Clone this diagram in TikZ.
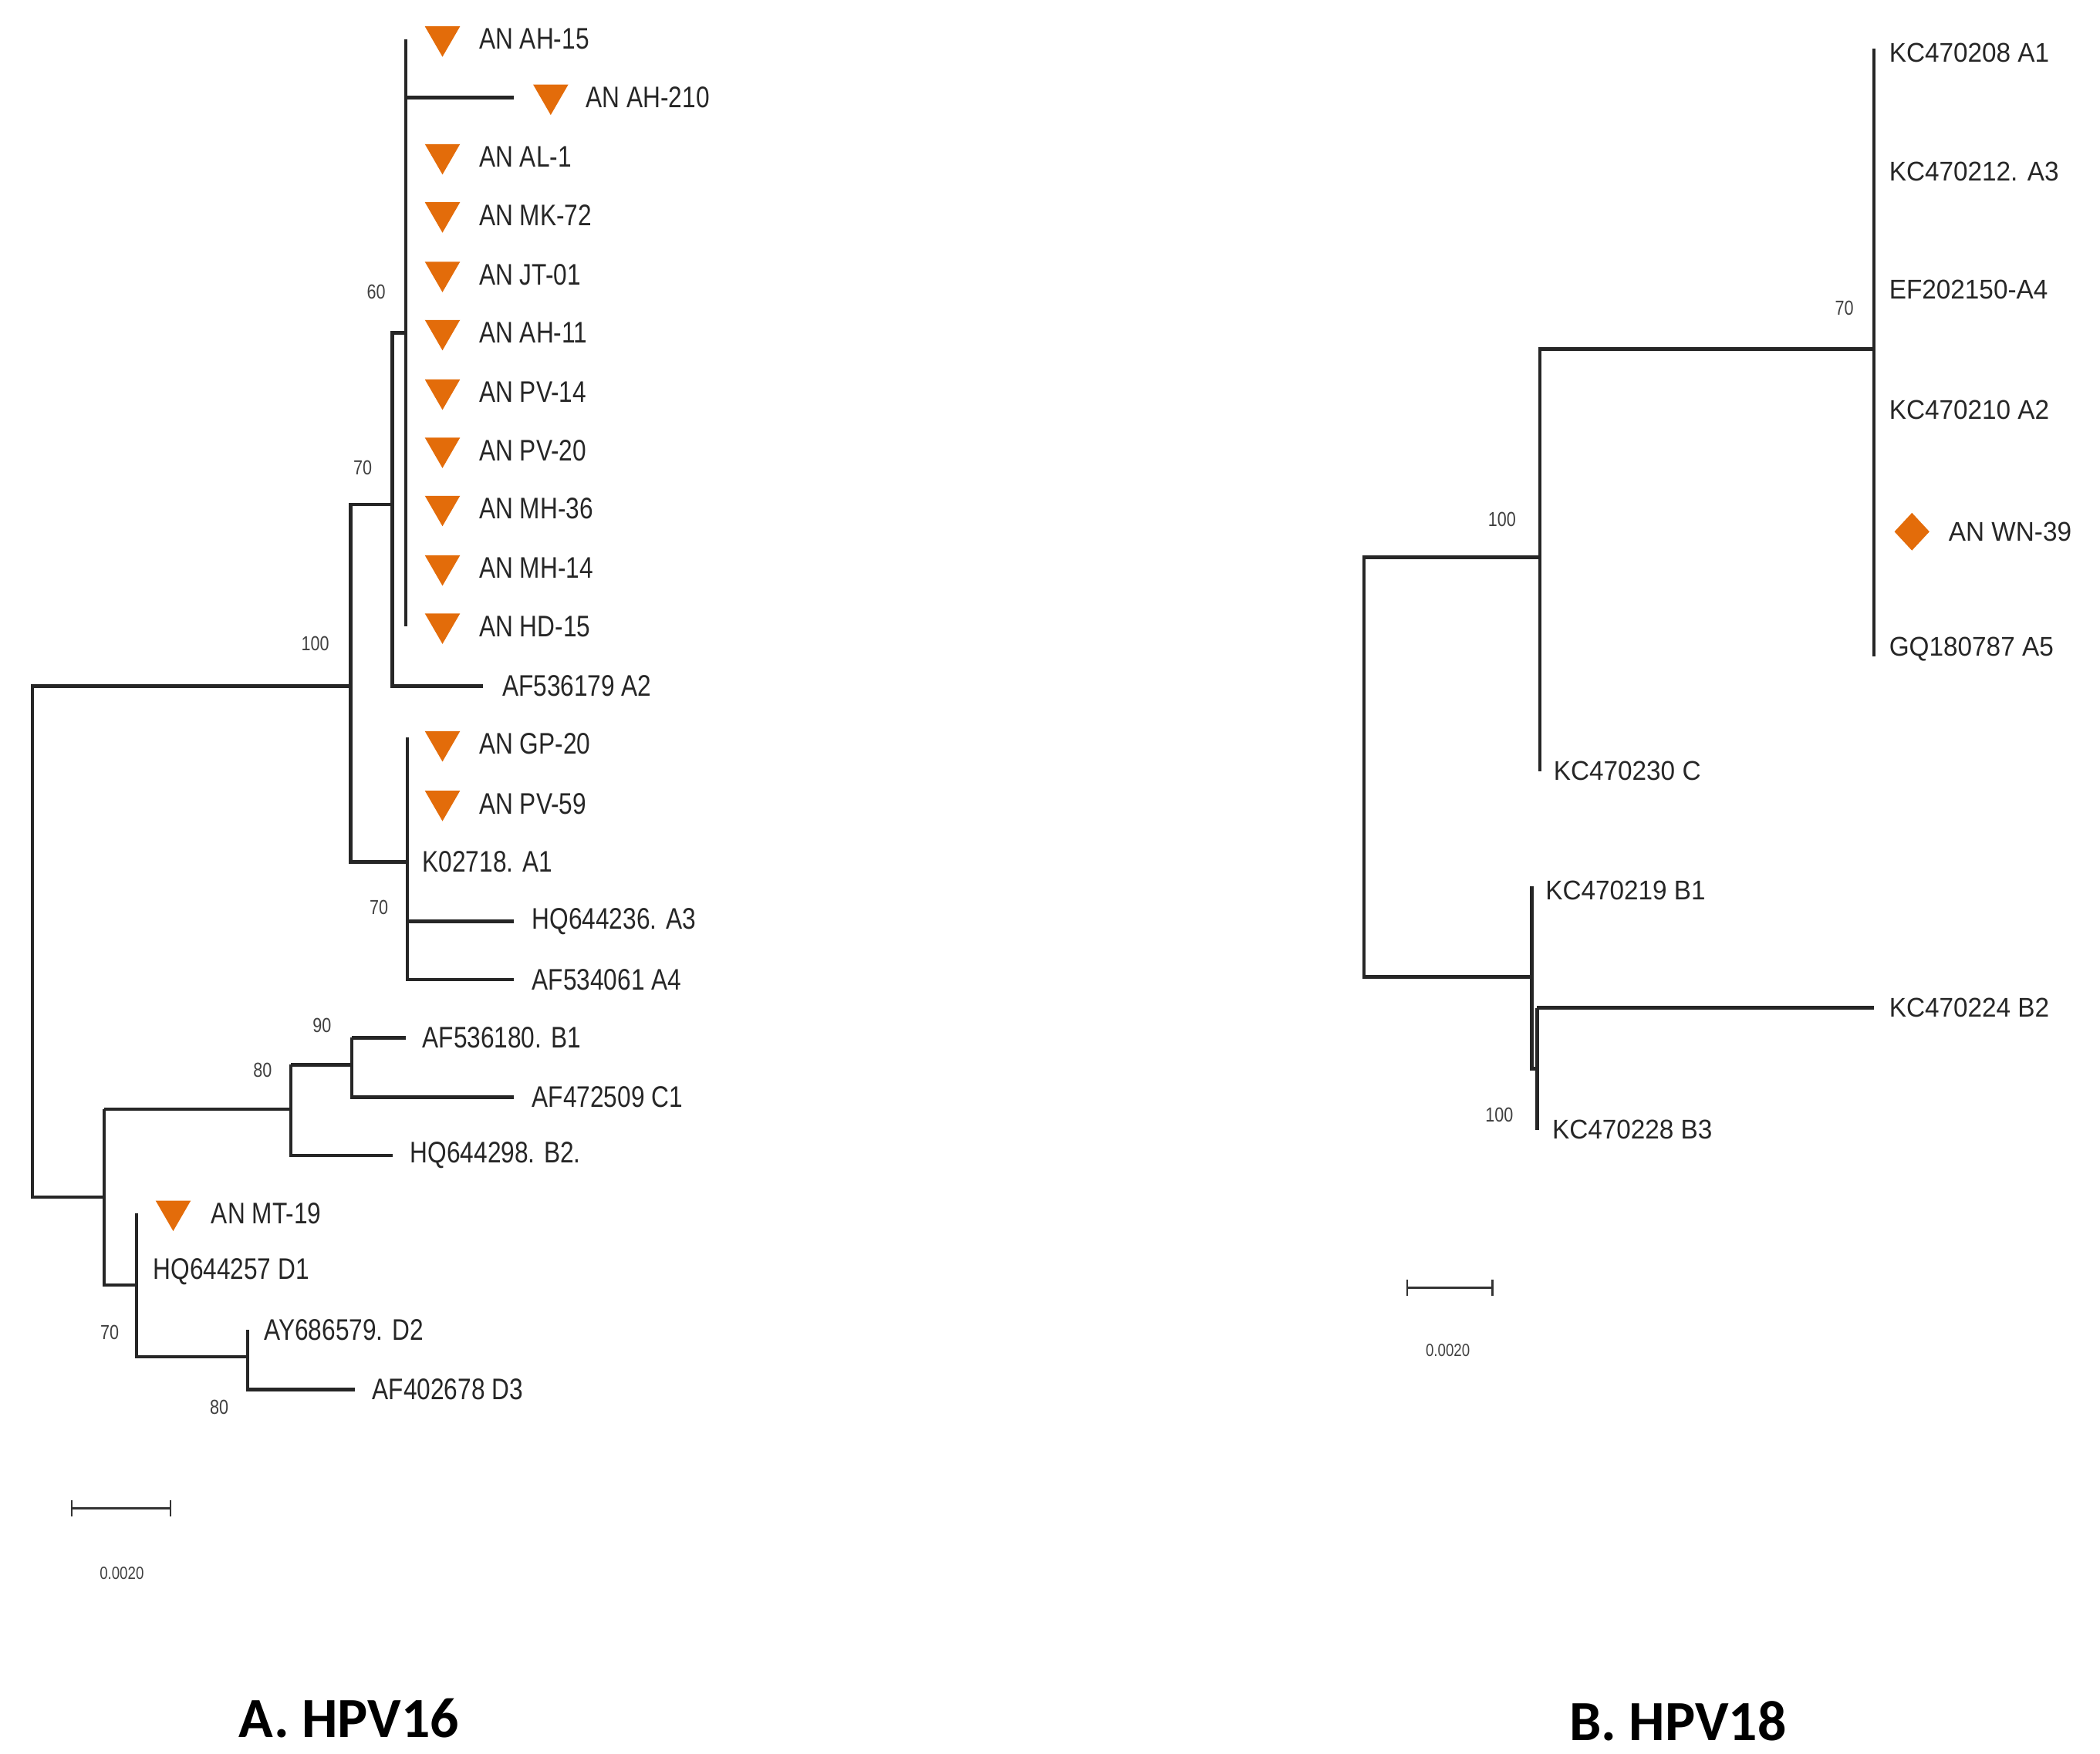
\documentclass[tikz,border=0pt]{standalone}
\usepackage{fontspec}
\setmainfont{Liberation Sans}[FakeStretch=0.82]
\newfontfamily\titlefont{Carlito}
\usetikzlibrary{shapes.geometric}
\definecolor{mark}{HTML}{E36C0A}
\tikzset{
 br/.style={line width=2.6pt,black!85},
 lf/.style={anchor=west,inner sep=0pt,font=\fontsize{22}{22}\selectfont,text=black!85},
 rl/.style={anchor=west,inner sep=0pt,font=\addfontfeature{FakeStretch=0.95}\fontsize{20}{20}\selectfont,text=black!85},
 bs/.style={inner sep=0pt,font=\fontsize{15}{15}\selectfont,text=black!75},
 tri/.style={regular polygon,regular polygon sides=3,shape border rotate=180,fill=mark,inner sep=0pt,minimum size=30pt},
 dia/.style={diamond,fill=mark,inner sep=0pt,minimum width=26pt,minimum height=28pt},
 ttl/.style={font=\titlefont\bfseries\fontsize{42}{42}\selectfont},
}
\begin{document}
\begin{tikzpicture}[x=1pt,y=-1pt]
\useasboundingbox (0,0) rectangle (1552,1296);
% ---------- A. HPV16 ----------
\foreach \n/\y/\t in {a/29/AN AH-15,c/116/AN AL-1,d/159/AN MK-72,e/203/AN JT-01,f/246/AN AH-11,g/290/AN PV-14,h/333/AN PV-20,i/376/AN MH-36,j/420/AN MH-14,k/463/AN HD-15,m/550/AN GP-20,n/594/AN PV-59}{
 \node[tri] (t\n) at (327,\y-2) {};
 \node[lf] (l\n) at (354,\y) {\t};
}
\node[tri] (tb) at (407,70) {};
\node[lf] (lb) at (433,72) {AN AH-210};
\node[lf] (lA2) at (371,507) {AF536179 A2};
\node[lf] (lA1) at (312,637) {K02718. A1};
\node[lf] (lA3) at (393,681) {HQ644236. A3};
\node[lf] (lA4) at (393,724) {AF534061 A4};
\node[lf] (lB1) at (312,767) {AF536180. B1};
\node[lf] (lC1) at (393,811) {AF472509 C1};
\node[lf] (lB2) at (303,854) {HQ644298. B2.};
\node[tri] (tmt) at (128,895) {};
\node[lf] (lmt) at (156,897) {AN MT-19};
\node[lf] (lD1) at (113,940) {HQ644257 D1};
\node[lf] (lD2) at (195,983) {AY686579. D2};
\node[lf] (lD3) at (275,1027) {AF402678 D3};
% branches
\coordinate (c1) at (300,29); \coordinate (c1b) at (300,463);
\draw[br] (c1) -- (c1b);
\draw[br] (300,72) -- (380,72);
\draw[br] (300,246) -- (290,246) -- (290,507) -- (357,507);
\draw[br] (290,373) -- (259,373) -- (259,637) -- (301,637);
\draw[br] (259,507) -- (24,507) -- (24,885) -- (77,885);
\draw[br] (301,545) -- (301,724) -- (380,724);
\draw[br] (301,681) -- (380,681);
\draw[br] (77,820) -- (77,950) -- (101,950);
\draw[br] (77,820) -- (215,820);
\draw[br] (215,787) -- (215,854) -- (290,854);
\draw[br] (215,787) -- (260,787);
\draw[br] (260,767) -- (260,811) -- (380,811);
\draw[br] (260,767) -- (300,767);
\draw[br] (101,897) -- (101,1003) -- (183,1003);
\draw[br] (183,983) -- (183,1027) -- (262,1027);
\node[bs] (b60) at (278,216) {60};
\node[bs] (b70a) at (268,346) {70};
\node[bs] (b100a) at (233,476) {100};
\node[bs] (b70b) at (280,671) {70};
\node[bs] (b90) at (238,758) {90};
\node[bs] (b80) at (194,791) {80};
\node[bs] (b70c) at (81,985) {70};
\node[bs] (b80b) at (162,1040) {80};
\draw[line width=1.6pt,black!80] (53,1109) -- (53,1121) (53,1115) -- (126,1115) (126,1109) -- (126,1121);
\node[bs,font=\fontsize{13}{13}\selectfont] (sA) at (90,1163) {0.0020};
\node[ttl] (tA) at (258,1270) {A. HPV16};
% ---------- B. HPV18 ----------
\node[rl] (r1) at (1396,39) {KC470208 A1};
\node[rl] (r2) at (1396,127) {KC470212. A3};
\node[rl] (r3) at (1396,214) {EF202150-A4};
\node[rl] (r4) at (1396,303) {KC470210 A2};
\node[dia] (dw) at (1413,393) {};
\node[rl] (r5) at (1440,393) {AN WN-39};
\node[rl] (r6) at (1396,480) {GQ180787 A5};
\node[rl] (rc) at (1148,570) {KC470230 C};
\node[rl] (rb1) at (1142,658) {KC470219 B1};
\node[rl] (rb2) at (1396,745) {KC470224 B2};
\node[rl] (rb3) at (1147,835) {KC470228 B3};
\draw[br] (1385,36) -- (1385,485);
\draw[br] (1385,258) -- (1138,258) -- (1138,570);
\draw[br] (1138,412) -- (1008,412) -- (1008,722) -- (1132,722);
\draw[br] (1132,655) -- (1132,790) -- (1136,790);
\draw[br] (1136,745) -- (1136,835);
\draw[br] (1136,745) -- (1385,745);
\node[bs] (r70) at (1363,228) {70};
\node[bs] (r100) at (1110,384) {100};
\node[bs] (r100b) at (1108,824) {100};
\draw[line width=1.6pt,black!80] (1040,946) -- (1040,958) (1040,952) -- (1103,952) (1103,946) -- (1103,958);
\node[bs,font=\fontsize{13}{13}\selectfont] (sB) at (1070,998) {0.0020};
\node[ttl] (tB) at (1240,1272) {B. HPV18};
\end{tikzpicture}
\end{document}
